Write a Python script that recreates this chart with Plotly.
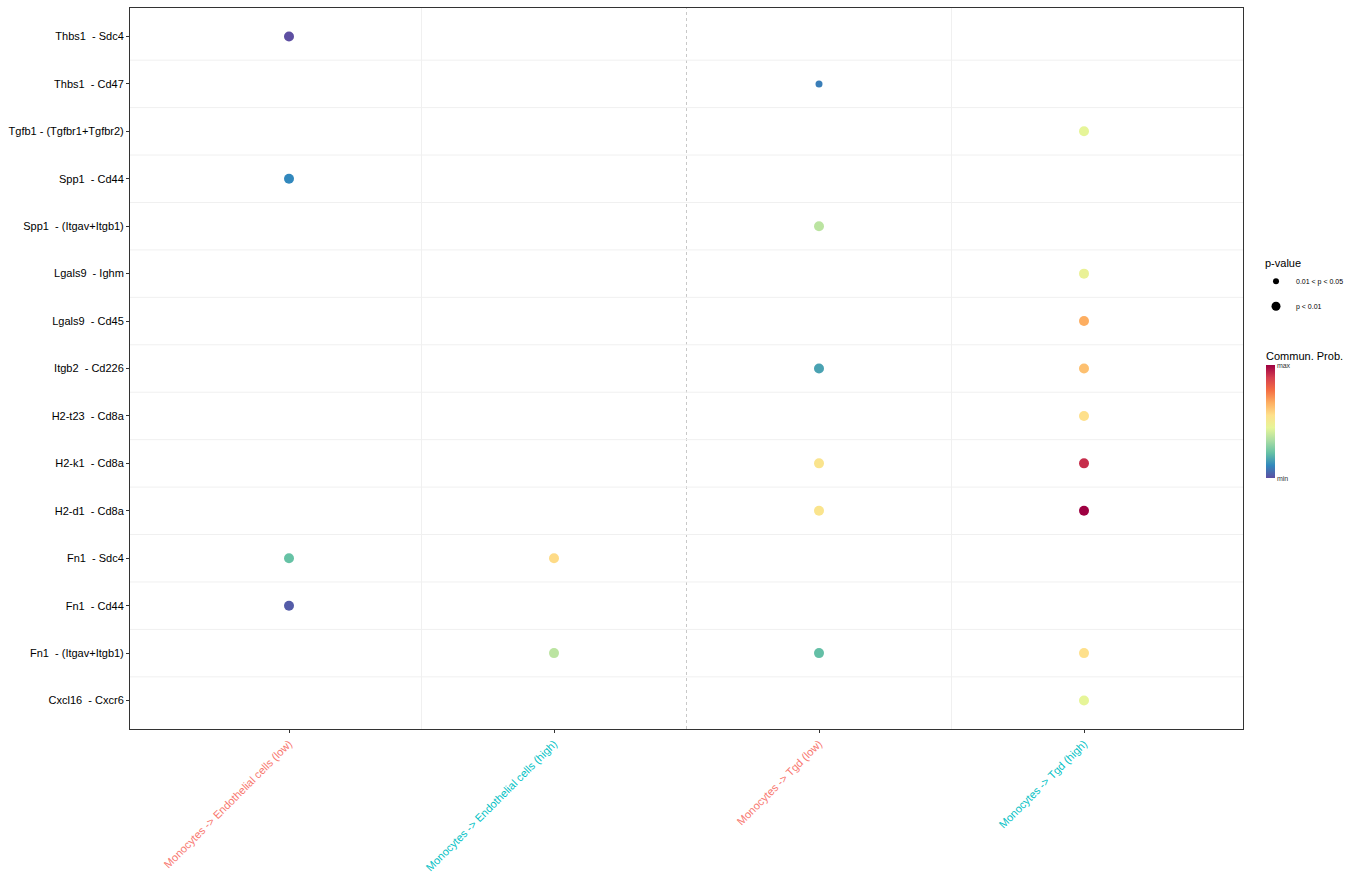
import plotly.graph_objects as go

# ---- data ----
groups = ["Monocytes -> Endothelial cells (low)", "Monocytes -> Endothelial cells (high)",
          "Monocytes -> Tgd (low)", "Monocytes -> Tgd (high)"]
group_colors = ["#F8766D", "#00BFC4", "#F8766D", "#00BFC4"]
pairs = ["Thbs1  - Sdc4", "Thbs1  - Cd47", "Tgfb1 - (Tgfbr1+Tgfbr2)", "Spp1  - Cd44",
         "Spp1  - (Itgav+Itgb1)", "Lgals9  - Ighm", "Lgals9  - Cd45", "Itgb2  - Cd226",
         "H2-t23  - Cd8a", "H2-k1  - Cd8a", "H2-d1  - Cd8a", "Fn1  - Sdc4", "Fn1  - Cd44",
         "Fn1  - (Itgav+Itgb1)", "Cxcl16  - Cxcr6"]

pt_pair = ["Thbs1  - Sdc4", "Thbs1  - Cd47", "Tgfb1 - (Tgfbr1+Tgfbr2)", "Spp1  - Cd44",
           "Spp1  - (Itgav+Itgb1)", "Lgals9  - Ighm", "Lgals9  - Cd45", "Itgb2  - Cd226",
           "Itgb2  - Cd226", "H2-t23  - Cd8a", "H2-k1  - Cd8a", "H2-k1  - Cd8a",
           "H2-d1  - Cd8a", "H2-d1  - Cd8a", "Fn1  - Sdc4", "Fn1  - Sdc4", "Fn1  - Cd44",
           "Fn1  - (Itgav+Itgb1)", "Fn1  - (Itgav+Itgb1)", "Fn1  - (Itgav+Itgb1)",
           "Cxcl16  - Cxcr6"]
pt_group = [0, 2, 3, 0, 2, 3, 3, 2, 3, 3, 2, 3, 2, 3, 0, 1, 0, 1, 2, 3, 3]
pt_prob = [0.01, 0.10, 0.45, 0.12, 0.37, 0.47, 0.67, 0.17, 0.63, 0.56, 0.54, 0.92,
           0.54, 1.00, 0.23, 0.57, 0.035, 0.37, 0.225, 0.56, 0.45]
# 1: 0.01 < p < 0.05, 2: p < 0.01
pt_pval = [2, 1, 2, 2, 2, 2, 2, 2, 2, 2, 2, 2, 2, 2, 2, 2, 2, 2, 2, 2, 2]
pval_labels = {1: "0.01 < p < 0.05", 2: "p < 0.01"}
pval_sizes = {1: 7, 2: 10}

spectral = ["#5E4FA2", "#3288BD", "#66C2A5", "#ABDDA4", "#E6F598",
            "#FEE08B", "#FDAE61", "#F46D43", "#D53E4F", "#9E0142"]
colorscale = [[i / (len(spectral) - 1), c] for i, c in enumerate(spectral)]

fig = go.Figure()
fig.add_trace(go.Scatter(
    x=[groups[g] for g in pt_group], y=pt_pair, mode="markers",
    marker=dict(size=[pval_sizes[p] for p in pt_pval], color=pt_prob, opacity=1,
                colorscale=colorscale, cmin=min(pt_prob), cmax=max(pt_prob),
                line=dict(width=0),
                colorbar=dict(title=dict(text="Commun. Prob.", side="top",
                                         font=dict(size=11, color="black")),
                              tickvals=[min(pt_prob), max(pt_prob)], ticktext=["min", "max"],
                              tickfont=dict(size=7, color="#333"), ticks="",
                              thickness=9, lenmode="pixels", len=130,
                              x=1.0207, xanchor="left", y=0.4376, yanchor="middle",
                              outlinewidth=0, xpad=0, ypad=0)),
    showlegend=False, hoverinfo="x+y"))

for k in sorted(pval_labels):
    fig.add_trace(go.Scatter(x=[None], y=[None], mode="markers", name=pval_labels[k],
                             legendgroup=str(k),
                             marker=dict(size=pval_sizes[k] - 1, color="black", opacity=1)))

# grid lines between categories
shapes = []
for i in range(len(groups) - 1):
    shapes.append(dict(type="line", xref="x", yref="paper", x0=i + 0.5, x1=i + 0.5, y0=0, y1=1,
                       layer="below",
                       line=dict(color="#C8C8C8" if i == 1 else "#F0F0F0",
                                 width=1, dash="3px,3px" if i == 1 else "solid")))
for j in range(len(pairs) - 1):
    shapes.append(dict(type="line", xref="paper", yref="y", x0=0, x1=1, y0=j + 0.5, y1=j + 0.5,
                       layer="below", line=dict(color="#F0F0F0", width=1)))

ticktext = [f"<span style='color:{c}'>{g}</span>" for g, c in zip(groups, group_colors)]

fig.update_layout(
    width=1359, height=873,
    margin=dict(l=130, r=116, t=8, b=144),
    plot_bgcolor="white", paper_bgcolor="white",
    font=dict(family="Liberation Sans, Arial, sans-serif", size=11, color="black"),
    shapes=shapes,
    xaxis=dict(type="category", categoryorder="array", categoryarray=groups,
               range=[-0.6, len(groups) - 0.4], tickvals=groups, ticktext=ticktext,
               tickangle=-45, showgrid=False, zeroline=False, automargin=False,
               showline=True, mirror=True, linecolor="#333333", linewidth=1,
               ticks="outside", ticklen=3, tickcolor="#333333", tickfont=dict(size=11)),
    yaxis=dict(type="category", categoryorder="array", categoryarray=pairs,
               range=[len(pairs) - 0.4, -0.6], showgrid=False, zeroline=False, automargin=False,
               showline=True, mirror=True, linecolor="#333333", linewidth=1,
               ticks="outside", ticklen=3, tickcolor="#333333", tickfont=dict(size=11)),
    legend=dict(title=dict(text="p-value", font=dict(size=11, color="black")),
                font=dict(size=7, color="black"),
                x=(1263 - 130) / 1113, xanchor="left", y=0.661, yanchor="top",
                indentation=-7, traceorder="grouped", tracegroupgap=6,
                itemwidth=30, bgcolor="rgba(0,0,0,0)"),
)

fig.write_html("out.html", config={"displayModeBar": False},
               post_script="document.body.style.margin='0';document.body.style.overflow='hidden';")
